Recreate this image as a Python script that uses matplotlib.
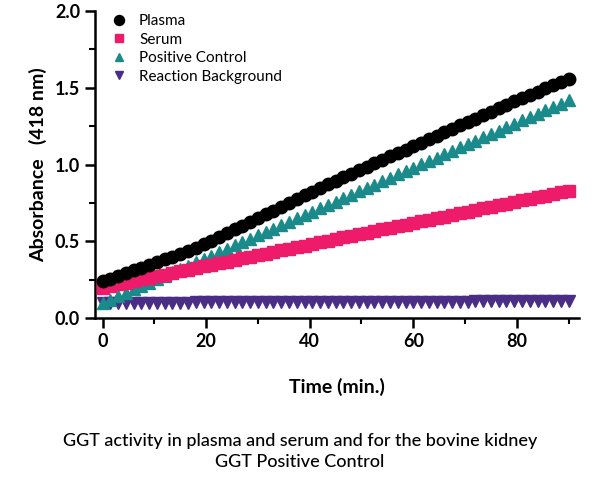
import matplotlib
matplotlib.use("Agg")
import matplotlib.pyplot as plt
from matplotlib.ticker import MultipleLocator

plasma = [0.240,0.258,0.276,0.294,0.312,0.330,0.348,0.366,0.383,0.401,0.420,0.440,0.460,0.482,0.505,0.530,0.554,0.578,0.602,0.626,0.650,0.676,0.700,0.725,0.750,0.775,0.800,0.825,0.850,0.873,0.895,0.918,0.940,0.963,0.985,1.008,1.030,1.053,1.075,1.098,1.120,1.143,1.165,1.188,1.210,1.233,1.255,1.278,1.300,1.323,1.345,1.368,1.390,1.413,1.434,1.455,1.476,1.497,1.518,1.539,1.560]
serum = [0.200,0.211,0.221,0.232,0.242,0.253,0.263,0.274,0.284,0.295,0.305,0.316,0.326,0.337,0.347,0.358,0.368,0.379,0.389,0.400,0.410,0.421,0.431,0.442,0.452,0.463,0.473,0.484,0.494,0.505,0.515,0.526,0.536,0.547,0.557,0.568,0.578,0.589,0.599,0.610,0.620,0.631,0.641,0.652,0.662,0.673,0.683,0.694,0.704,0.715,0.725,0.736,0.746,0.757,0.767,0.778,0.788,0.799,0.809,0.820,0.830]
positive = [0.100,0.122,0.144,0.166,0.188,0.210,0.232,0.254,0.276,0.298,0.320,0.342,0.364,0.386,0.408,0.430,0.452,0.474,0.496,0.518,0.540,0.562,0.584,0.606,0.628,0.650,0.672,0.694,0.716,0.738,0.760,0.782,0.804,0.826,0.848,0.870,0.892,0.914,0.936,0.958,0.980,1.002,1.024,1.046,1.068,1.090,1.112,1.134,1.156,1.178,1.200,1.222,1.244,1.266,1.288,1.310,1.332,1.354,1.376,1.398,1.420]
background = [0.100,0.100,0.100,0.101,0.101,0.101,0.101,0.102,0.102,0.102,0.102,0.102,0.103,0.103,0.103,0.103,0.103,0.104,0.104,0.104,0.104,0.104,0.105,0.105,0.105,0.105,0.105,0.105,0.106,0.106,0.106,0.106,0.106,0.106,0.107,0.107,0.107,0.107,0.107,0.107,0.107,0.108,0.108,0.108,0.108,0.108,0.108,0.108,0.109,0.109,0.109,0.109,0.109,0.109,0.109,0.110,0.110,0.110,0.110,0.110,0.110]
times = [i * 1.5 for i in range(len(plasma))]

plt.rcParams['font.family'] = ['Lato', 'DejaVu Sans']
fig = plt.figure(figsize=(6, 4.8), dpi=100)
ax = fig.add_axes([0.158, 0.337, 0.807, 0.64])

ax.plot(times, plasma, 'o', color='black', ms=9, label='Plasma', zorder=4)
ax.plot(times, serum, 's', color='#ee1a6a', ms=8, label='Serum', zorder=3)
ax.plot(times, positive, '^', color='#1a8a8a', ms=8, label='Positive Control', zorder=2)
ax.plot(times, background, 'v', color='#4a2e86', ms=8, label='Reaction Background', zorder=1)

ax.set_xlim(-1.5, 92)
ax.set_ylim(0, 2.0)
ax.xaxis.set_major_locator(MultipleLocator(20))
ax.xaxis.set_minor_locator(MultipleLocator(10))
ax.yaxis.set_major_locator(MultipleLocator(0.5))
ax.yaxis.set_minor_locator(MultipleLocator(0.25))
ax.yaxis.set_major_formatter(matplotlib.ticker.FormatStrFormatter('%.1f'))
for s in ['top', 'right']:
    ax.spines[s].set_visible(False)
for s in ['left', 'bottom']:
    ax.spines[s].set_linewidth(1.8)
ax.tick_params(which='major', length=7, width=1.8, labelsize=13)
ax.tick_params(which='minor', length=4, width=1.5)
for lab in ax.get_xticklabels() + ax.get_yticklabels():
    lab.set_fontweight('bold')
ax.set_xlabel('Time (min.)', fontsize=14, fontweight='bold', labelpad=20)
ax.set_ylabel('Absorbance   (418 nm)', fontsize=14, fontweight='bold', labelpad=6)
ax.legend(loc='upper left', frameon=False, fontsize=11, handletextpad=0.3,
          borderaxespad=0.2, labelspacing=0.3, bbox_to_anchor=(0.0, 1.02), markerscale=0.8)

fig.text(0.5, 0.06, 'GGT activity in plasma and serum and for the bovine kidney\nGGT Positive Control',
         ha='center', va='center', fontsize=13, fontweight='medium', linespacing=1.4)
fig.savefig('out.png', dpi=100)
